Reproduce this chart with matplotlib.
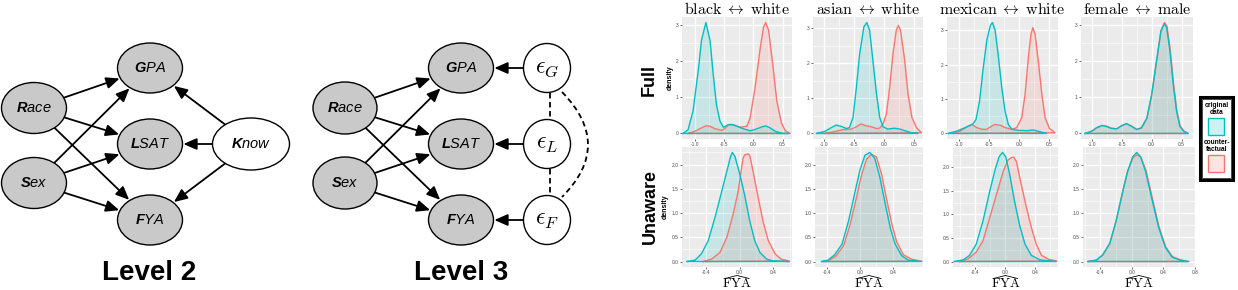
import numpy as np
import matplotlib
matplotlib.use('Agg')
import matplotlib.pyplot as plt
from matplotlib.patches import Ellipse, FancyArrowPatch, Rectangle, PathPatch
from matplotlib.path import Path
from matplotlib.lines import Line2D
from matplotlib.ticker import FormatStrFormatter

plt.rcParams['font.family'] = ['Liberation Sans', 'DejaVu Sans']
plt.rcParams['mathtext.fontset'] = 'custom'
plt.rcParams['mathtext.rm'] = 'Liberation Sans'
plt.rcParams['mathtext.it'] = 'Liberation Sans:italic'
plt.rcParams['mathtext.bf'] = 'Liberation Sans:bold'
plt.rcParams['mathtext.bfit'] = 'Liberation Sans:bold:italic'
plt.rcParams['axes.unicode_minus'] = False

# ---- data ----
# top row: "Full" model, bottom row: "Unaware" model
# orig = original data (cyan), cf = counterfactual (red)

bw_full_orig_x = [-1.20, -1.115, -1.03, -0.94, -0.885, -0.81, -0.74, -0.685, -0.63, -0.57, -0.51, -0.43,
                  -0.37, -0.28, -0.17, -0.055, 0.03, 0.145, 0.21, 0.29, 0.375, 0.49, 0.60]
bw_full_orig_y = [0, 0.10, 0.62, 1.74, 2.58, 3.07, 2.58, 1.64, 0.80, 0.34, 0.17, 0.24,
                  0.25, 0.20, 0.13, 0.075, 0.11, 0.18, 0.21, 0.15, 0.06, 0.0, 0.0]
bw_full_cf_x = [-1.115, -1.0, -0.915, -0.81, -0.74, -0.655, -0.54, -0.485, -0.43, -0.34, -0.23, -0.11,
                -0.055, 0.03, 0.12, 0.175, 0.21, 0.26, 0.33, 0.40, 0.48, 0.545, 0.63]
bw_full_cf_y = [0, 0.06, 0.13, 0.21, 0.20, 0.13, 0.09, 0.13, 0.24, 0.24, 0.17, 0.20,
                0.43, 1.27, 2.39, 2.95, 3.07, 2.86, 1.93, 0.90, 0.29, 0.075, 0.0]

aw_full_orig_x = [-1.12, -0.98, -0.87, -0.79, -0.705, -0.62, -0.57, -0.51, -0.455, -0.40, -0.33, -0.28,
                  -0.235, -0.18, -0.12, -0.067, -0.01, 0.07, 0.18, 0.27, 0.35, 0.46, 0.57]
aw_full_orig_y = [0, 0.06, 0.17, 0.24, 0.20, 0.14, 0.17, 0.46, 1.32, 2.28, 3.05, 3.17,
                  2.95, 2.09, 1.13, 0.46, 0.19, 0.125, 0.15, 0.125, 0.08, 0.02, 0.0]
aw_full_cf_x = [-0.98, -0.82, -0.68, -0.54, -0.455, -0.38, -0.29, -0.205, -0.12, -0.067, -0.01, 0.045,
                0.10, 0.155, 0.21, 0.245, 0.28, 0.35, 0.405, 0.47, 0.545, 0.63]
aw_full_cf_y = [0, 0.05, 0.11, 0.125, 0.19, 0.27, 0.22, 0.19, 0.14, 0.15, 0.27, 0.56,
                1.32, 2.28, 2.95, 3.09, 2.95, 2.09, 1.13, 0.46, 0.17, 0.02]

mw_full_orig_x = [-1.18, -1.04, -0.93, -0.84, -0.77, -0.72, -0.66, -0.605, -0.54, -0.48, -0.445, -0.40,
                  -0.345, -0.29, -0.235, -0.18, -0.12, -0.01, 0.13, 0.24, 0.35, 0.46]
mw_full_orig_y = [0, 0.07, 0.15, 0.22, 0.28, 0.41, 0.95, 1.83, 2.71, 3.15, 3.23, 3.0,
                  2.22, 1.34, 0.65, 0.26, 0.12, 0.09, 0.08, 0.10, 0.05, 0.0]
mw_full_cf_x = [-1.09, -0.98, -0.87, -0.79, -0.705, -0.62, -0.54, -0.455, -0.40, -0.315, -0.235, -0.12,
                -0.04, 0.045, 0.10, 0.155, 0.20, 0.23, 0.265, 0.32, 0.38, 0.435, 0.505, 0.60]
mw_full_cf_y = [0, 0.07, 0.19, 0.26, 0.17, 0.12, 0.12, 0.22, 0.26, 0.24, 0.17, 0.12,
                0.17, 0.46, 1.14, 2.22, 2.90, 3.08, 2.90, 2.12, 1.14, 0.46, 0.15, 0.02]

fm_full_orig_x = [-1.11, -1.0, -0.92, -0.83, -0.75, -0.67, -0.58, -0.50, -0.42, -0.33, -0.25, -0.17,
                  -0.08, 0.0, 0.08, 0.155, 0.21, 0.25, 0.305, 0.36, 0.415, 0.47, 0.53, 0.61]
fm_full_orig_y = [0, 0.065, 0.16, 0.22, 0.19, 0.14, 0.13, 0.22, 0.27, 0.19, 0.11, 0.16,
                  0.43, 1.08, 2.0, 2.83, 3.04, 2.93, 2.28, 1.36, 0.62, 0.20, 0.065, 0.0]
fm_full_cf_x = [-1.11, -1.0, -0.92, -0.83, -0.75, -0.67, -0.58, -0.50, -0.42, -0.33, -0.25, -0.17,
                -0.08, 0.0, 0.08, 0.155, 0.215, 0.255, 0.31, 0.365, 0.42, 0.475, 0.535, 0.61]
fm_full_cf_y = [0, 0.06, 0.15, 0.22, 0.20, 0.14, 0.13, 0.21, 0.27, 0.20, 0.11, 0.15,
                0.41, 1.05, 1.97, 2.85, 3.07, 2.97, 2.32, 1.38, 0.63, 0.21, 0.07, 0.0]

bw_unaw_orig_x = [-0.62, -0.525, -0.45, -0.37, -0.29, -0.21, -0.15, -0.11, -0.086, -0.055, 0.004, 0.063,
                  0.12, 0.18, 0.24, 0.32, 0.40, 0.59]
bw_unaw_orig_y = [0, 0.03, 0.16, 0.43, 0.91, 1.45, 1.86, 2.14, 2.25, 2.17, 1.80, 1.35,
                  0.84, 0.43, 0.19, 0.05, 0.01, 0.0]
bw_unaw_cf_x = [-0.43, -0.33, -0.23, -0.15, -0.075, -0.016, 0.024, 0.043, 0.063, 0.10, 0.12, 0.16,
                0.22, 0.28, 0.34, 0.42, 0.49, 0.59]
bw_unaw_cf_y = [0, 0.05, 0.19, 0.50, 0.98, 1.45, 1.93, 2.14, 2.20, 2.22, 2.19, 1.86,
                1.32, 0.81, 0.43, 0.16, 0.05, 0.01]

aw_unaw_orig_x = [-0.47, -0.39, -0.31, -0.22, -0.14, -0.06, 0.0, 0.06, 0.12, 0.18, 0.245, 0.31,
                  0.37, 0.43, 0.51, 0.59, 0.755]
aw_unaw_orig_y = [0, 0.03, 0.14, 0.36, 0.84, 1.45, 1.90, 2.20, 2.26, 2.14, 1.73, 1.18,
                  0.70, 0.36, 0.12, 0.03, 0.0]
aw_unaw_cf_x = [-0.45, -0.37, -0.29, -0.20, -0.12, -0.04, 0.02, 0.08, 0.14, 0.20, 0.265, 0.33,
                0.39, 0.45, 0.53, 0.63, 0.755]
aw_unaw_cf_y = [0, 0.03, 0.12, 0.33, 0.77, 1.35, 1.80, 2.12, 2.22, 2.17, 1.80, 1.25,
                0.77, 0.40, 0.14, 0.05, 0.005]

mw_unaw_orig_x = [-0.67, -0.555, -0.47, -0.38, -0.29, -0.20, -0.13, -0.075, -0.03, 0.013, 0.067, 0.13,
                  0.20, 0.27, 0.355, 0.47, 0.69]
mw_unaw_orig_y = [0, 0.035, 0.13, 0.37, 0.86, 1.49, 1.94, 2.22, 2.31, 2.22, 1.84, 1.28,
                  0.76, 0.37, 0.13, 0.035, 0.0]
mw_unaw_cf_x = [-0.60, -0.49, -0.38, -0.29, -0.20, -0.11, -0.02, 0.044, 0.09, 0.12, 0.155, 0.22,
                0.29, 0.355, 0.42, 0.49, 0.58, 0.69]
mw_unaw_cf_y = [0, 0.055, 0.20, 0.44, 0.93, 1.42, 1.91, 2.15, 2.20, 2.21, 2.12, 1.63,
                1.14, 0.72, 0.37, 0.13, 0.05, 0.01]

fm_unaw_orig_x = [-0.555, -0.45, -0.37, -0.28, -0.20, -0.12, -0.055, 0.01, 0.06, 0.11, 0.175, 0.26,
                  0.34, 0.425, 0.51, 0.61, 0.72]
fm_unaw_orig_y = [0, 0.03, 0.14, 0.38, 0.84, 1.42, 1.86, 2.17, 2.26, 2.17, 1.86, 1.25,
                  0.70, 0.29, 0.09, 0.03, 0.0]
fm_unaw_cf_x = [-0.555, -0.45, -0.37, -0.28, -0.20, -0.12, -0.055, 0.015, 0.065, 0.115, 0.18, 0.265,
                0.345, 0.43, 0.515, 0.615, 0.72]
fm_unaw_cf_y = [0, 0.03, 0.13, 0.37, 0.84, 1.43, 1.87, 2.15, 2.21, 2.16, 1.88, 1.27,
                0.71, 0.30, 0.10, 0.035, 0.0]

col_titles = [r'$\mathrm{black}\;\leftrightarrow\;\mathrm{white}$', r'$\mathrm{asian}\;\leftrightarrow\;\mathrm{white}$',
              r'$\mathrm{mexican}\;\leftrightarrow\;\mathrm{white}$', r'$\mathrm{female}\;\leftrightarrow\;\mathrm{male}$']
row_names = ['Full', 'Unaware']
full_xticks = [-1.0, -0.5, 0.0, 0.5]
full_yticks = [0, 1, 2, 3]
unaw_xticks = [-0.4, 0.0, 0.4, 0.8]
unaw_yticks = [0.0, 0.5, 1.0, 1.5, 2.0]
legend_labels = ['original\ndata', 'counter-\nfactual']

W, H = 1238, 290
fig = plt.figure(figsize=(W / 100, H / 100), dpi=100)


def box(x0, x1, y0, y1):
    return [x0 / W, 1 - y1 / H, (x1 - x0) / W, (y1 - y0) / H]


# ---------------- causal graphs (drawn in pixel coords) ----------------
g = fig.add_axes([0, 0, 600 / W, 1])
g.set_xlim(0, 600)
g.set_ylim(290, 0)
g.axis('off')

GRAY = '#c9c9c9'


def node(x, y, w, h, label, fill, size=10.5):
    e = Ellipse((x, y), w, h, facecolor=fill, edgecolor='k', lw=1.0, zorder=2)
    g.add_patch(e)
    g.text(x, y, label, ha='center', va='center', fontsize=size, zorder=3)
    return e


def arrow(a, b):
    p = FancyArrowPatch(a.center, b.center, patchA=a, patchB=b, shrinkA=0, shrinkB=1,
                        arrowstyle='-|>,head_length=0.8,head_width=0.35', mutation_scale=10,
                        lw=1.3, color='k', zorder=1)
    g.add_patch(p)


# Level 2
race = node(34, 108, 65, 51, r'$\mathbfit{R}\mathit{ace}$', GRAY)
sex = node(34, 183, 65, 51, r'$\mathbfit{S}\mathit{ex}$', GRAY)
gpa = node(150, 68, 65, 50, r'$\mathbfit{G}\mathit{PA}$', GRAY)
lsat = node(150, 144, 65, 50, r'$\mathbfit{L}\mathit{SAT}$', GRAY)
fya = node(150, 220, 65, 50, r'$\mathbfit{F}\mathit{YA}$', GRAY)
know = node(251, 144, 77, 52, r'$\mathbfit{K}\mathit{now}$', 'white')
for s in (race, sex):
    for t in (gpa, lsat, fya):
        arrow(s, t)
for t in (gpa, lsat, fya):
    arrow(know, t)
g.text(149, 273, 'Level 2', ha='center', va='center', fontsize=20, fontweight='bold')

# Level 3
race3 = node(345, 108, 64, 52, r'$\mathbfit{R}\mathit{ace}$', GRAY)
sex3 = node(345, 183, 64, 52, r'$\mathbfit{S}\mathit{ex}$', GRAY)
gpa3 = node(461, 68, 65, 50, r'$\mathbfit{G}\mathit{PA}$', GRAY)
lsat3 = node(461, 144, 65, 50, r'$\mathbfit{L}\mathit{SAT}$', GRAY)
fya3 = node(461, 220, 65, 50, r'$\mathbfit{F}\mathit{YA}$', GRAY)
eps = []
for yy, lab in zip([68, 144, 220], ['G', 'L', 'F']):
    e = Ellipse((547, yy), 47, 49, facecolor='white', edgecolor='k', lw=1.0, zorder=2)
    g.add_patch(e)
    g.text(547, yy, r'$\epsilon_{%s}$' % lab, ha='center', va='center', fontsize=17,
           math_fontfamily='cm', zorder=3)
    eps.append(e)
for s in (race3, sex3):
    for t in (gpa3, lsat3, fya3):
        arrow(s, t)
for e, t in zip(eps, (gpa3, lsat3, fya3)):
    arrow(e, t)
g.plot([550, 550], [93, 120], 'k--', lw=1.3, dashes=(3, 2))
g.plot([550, 550], [169, 196], 'k--', lw=1.3, dashes=(3, 2))
curve = Path([(562, 92), (614, 145), (562, 197)], [Path.MOVETO, Path.CURVE3, Path.CURVE3])
g.add_patch(PathPatch(curve, facecolor='none', edgecolor='k', lw=1.3, ls=(0, (3, 2))))
g.text(461, 273, 'Level 3', ha='center', va='center', fontsize=20, fontweight='bold')

# ---------------- density panels ----------------
CYAN = '#00BFC4'
RED = '#F8766D'

full_data = [(bw_full_orig_x, bw_full_orig_y, bw_full_cf_x, bw_full_cf_y),
             (aw_full_orig_x, aw_full_orig_y, aw_full_cf_x, aw_full_cf_y),
             (mw_full_orig_x, mw_full_orig_y, mw_full_cf_x, mw_full_cf_y),
             (fm_full_orig_x, fm_full_orig_y, fm_full_cf_x, fm_full_cf_y)]
unaw_data = [(bw_unaw_orig_x, bw_unaw_orig_y, bw_unaw_cf_x, bw_unaw_cf_y),
             (aw_unaw_orig_x, aw_unaw_orig_y, aw_unaw_cf_x, aw_unaw_cf_y),
             (mw_unaw_orig_x, mw_unaw_orig_y, mw_unaw_cf_x, mw_unaw_cf_y),
             (fm_unaw_orig_x, fm_unaw_orig_y, fm_unaw_cf_x, fm_unaw_cf_y)]

full_boxes = [(682, 792), (813, 923), (947, 1058), (1081, 1193)]
unaw_boxes = [(682, 792), (815, 923), (953, 1058), (1083, 1195)]
full_xlims = [(-1.218, 0.66), (-1.178, 0.655), (-1.205, 0.65), (-1.18, 0.69)]
unaw_xlims = [(-0.68, 0.62), (-0.55, 0.77), (-0.69, 0.71), (-0.62, 0.80)]

rows = [(full_data, full_boxes, full_xlims, (17, 139), full_xticks, full_yticks, '%.1f', '%d'),
        (unaw_data, unaw_boxes, unaw_xlims, (147, 267), unaw_xticks, unaw_yticks, '%.1f', '%.1f')]

for r, (data, boxes, xlims, (y0, y1), xt, yt, xf, yf) in enumerate(rows):
    for c in range(4):
        ox, oy, cx, cy = data[c]
        ax = fig.add_axes(box(boxes[c][0], boxes[c][1], y0, y1))
        ax.set_facecolor('#EBEBEB')
        for sp in ax.spines.values():
            sp.set_visible(False)
        for xx, yy, col in ((cx, cy, RED), (ox, oy, CYAN)):
            xx = np.array(xx)
            yy = np.array(yy)
            ax.fill_between(xx, yy, color=col, alpha=0.15, lw=0, zorder=2)
            ax.plot(np.r_[xx, xx[0]], np.r_[yy, 0], color=col, lw=1.0, zorder=3)
        m = max(max(oy), max(cy))
        xstep = xt[1] - xt[0]
        ystep = yt[1] - yt[0]
        ax.set_xticks(xt)
        ax.set_yticks(yt)
        ax.set_xticks(np.arange(xt[0] - xstep * 1.5, xt[-1] + xstep, xstep), minor=True)
        ax.set_yticks(np.arange(yt[0] + ystep / 2, yt[-1] + ystep, ystep), minor=True)
        ax.set_xlim(*xlims[c])
        ax.set_ylim(-0.05 * m, 1.05 * m)
        ax.xaxis.set_major_formatter(FormatStrFormatter(xf))
        ax.yaxis.set_major_formatter(FormatStrFormatter(yf))
        ax.grid(which='major', color='white', lw=1.0, zorder=0)
        ax.grid(which='minor', color='white', lw=0.45, zorder=0)
        ax.set_axisbelow(True)
        ax.tick_params(which='major', labelsize=3.5, labelcolor='#4D4D4D', length=1.5, width=0.5,
                       color='#333333', pad=0.8)
        ax.tick_params(which='minor', length=0)
        if c == 0:
            ax.set_ylabel('density', fontsize=5, fontweight='bold', labelpad=2)
        if r == 0:
            ax.set_title(col_titles[c], fontsize=11.5, math_fontfamily='cm', pad=1.5)
        else:
            # x label: FYA with a wide hat drawn above it
            xc = (boxes[c][0] + boxes[c][1]) / 2
            fig.text(xc / W, 1 - 290 / H, r'$\mathrm{FYA}$', ha='center', va='bottom',
                     fontsize=9.5, math_fontfamily='cm')
            fig.add_artist(Line2D([(xc - 12) / W, xc / W, (xc + 12) / W],
                                  [1 - 278.5 / H, 1 - 275.5 / H, 1 - 278.5 / H],
                                  color='k', lw=0.6, transform=fig.transFigure))

fig.text(649 / W, 1 - 80 / H, row_names[0], rotation=90, ha='center', va='center',
         fontsize=13, fontweight='bold')
fig.text(650 / W, 1 - 207 / H, row_names[1], rotation=90, ha='center', va='center',
         fontsize=13, fontweight='bold')

# legend
lg = fig.add_axes(box(1198, 1236, 95, 182))
lg.set_xlim(1198, 1236)
lg.set_ylim(182, 95)
lg.axis('off')
lg.add_patch(Rectangle((1200, 97), 33, 83, facecolor='white', edgecolor='k', lw=2.2))
lg.add_patch(Rectangle((1202, 99), 29, 79, facecolor='none', edgecolor='k', lw=0.5))
for yy, lab, col in zip([109, 146], legend_labels, [CYAN, RED]):
    lg.text(1216.5, yy, lab, ha='center', va='center', fontsize=4.8, fontweight='bold', linespacing=1.0)
    lg.add_patch(Rectangle((1208, yy + 9), 16, 17, facecolor=col, alpha=0.2, lw=0))
    lg.add_patch(Rectangle((1208, yy + 9), 16, 17, facecolor='none', edgecolor=col, lw=1.0))

fig.savefig('out.png', dpi=100)
